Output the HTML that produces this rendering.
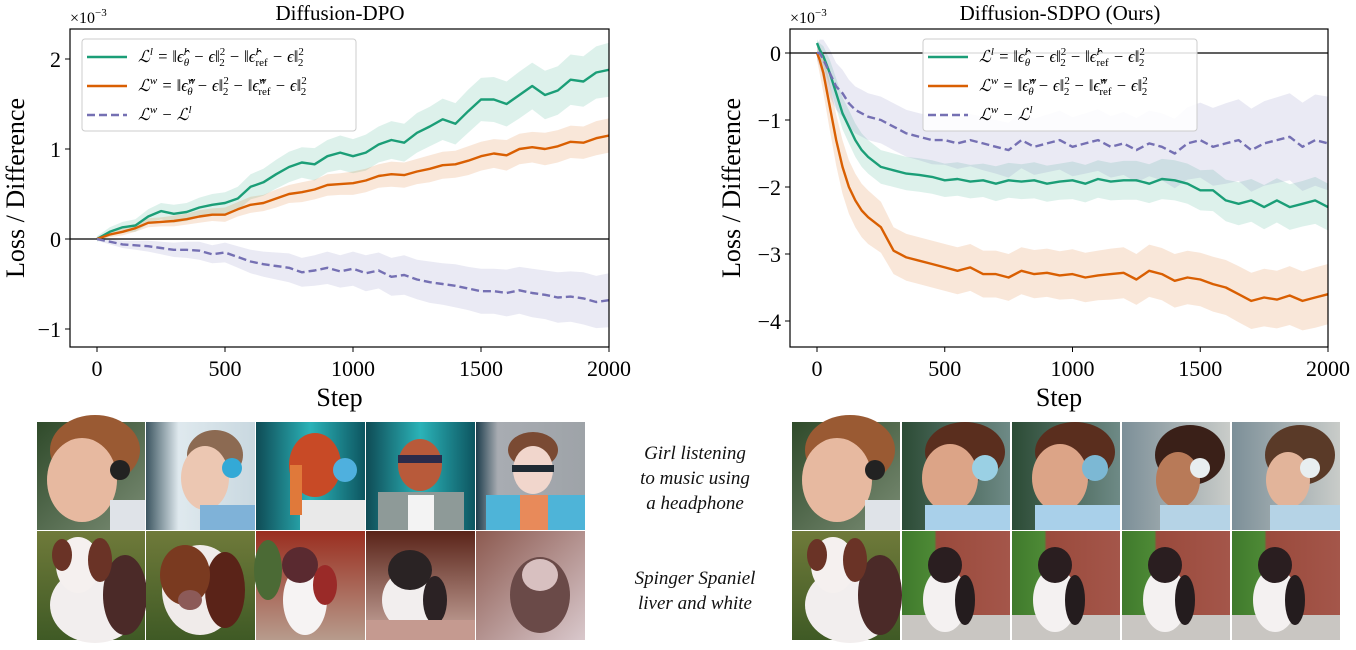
<!DOCTYPE html>
<html><head><meta charset="utf-8">
<style>
body{margin:0;background:#fff;width:1356px;height:645px;overflow:hidden;font-family:"Liberation Serif",serif}
svg text{font-family:"Liberation Serif","DejaVu Serif",serif}
</style></head><body>
<svg id="fig" width="1356" height="645" viewBox="0 0 1356 645" xmlns="http://www.w3.org/2000/svg">
<g id="left-chart"></g>
<g id="right-chart"></g>

<defs>
<linearGradient id="gGreen" x1="0" y1="0" x2="1" y2="1"><stop offset="0" stop-color="#2f4a2a"/><stop offset="1" stop-color="#7a8c74"/></linearGradient>
<linearGradient id="gLight" x1="0" y1="0" x2="1" y2="0"><stop offset="0" stop-color="#3c5560"/><stop offset=".3" stop-color="#dfe9ee"/><stop offset="1" stop-color="#c9d8e0"/></linearGradient>
<linearGradient id="gTeal" x1="0" y1="0" x2="1" y2="0"><stop offset="0" stop-color="#0f4b55"/><stop offset=".5" stop-color="#2bb3b8"/><stop offset="1" stop-color="#0d5560"/></linearGradient>
<linearGradient id="gGrey" x1="0" y1="0" x2="1" y2="0"><stop offset="0" stop-color="#1d3d4c"/><stop offset=".2" stop-color="#a8acb2"/><stop offset="1" stop-color="#9ea3a8"/></linearGradient>
<linearGradient id="gGrass" x1="0" y1="0" x2="0" y2="1"><stop offset="0" stop-color="#6f7a3a"/><stop offset="1" stop-color="#3f5a25"/></linearGradient>
<linearGradient id="gRed" x1="0" y1="0" x2="0" y2="1"><stop offset="0" stop-color="#9a2e20"/><stop offset="1" stop-color="#b79b8c"/></linearGradient>
<linearGradient id="gBrown" x1="0" y1="0" x2="0" y2="1"><stop offset="0" stop-color="#5a2419"/><stop offset="1" stop-color="#c9a9a0"/></linearGradient>
<linearGradient id="gBlanket" x1="0" y1="0" x2="1" y2="1"><stop offset="0" stop-color="#8c5a50"/><stop offset="1" stop-color="#d9c8cc"/></linearGradient>
<linearGradient id="gPark" x1="0" y1="0" x2="1" y2="0"><stop offset="0" stop-color="#2c4b35"/><stop offset="1" stop-color="#6e8a86"/></linearGradient>
<linearGradient id="gBuild" x1="0" y1="0" x2="1" y2="0"><stop offset="0" stop-color="#7c8f98"/><stop offset="1" stop-color="#c9ccc9"/></linearGradient>
<linearGradient id="gBrick" x1="0" y1="0" x2="1" y2="0"><stop offset="0" stop-color="#3f7a2c"/><stop offset=".3" stop-color="#4e8a36"/><stop offset=".32" stop-color="#9a4a3c"/><stop offset="1" stop-color="#a4564a"/></linearGradient>
</defs>

<g>
 <g><rect x="37" y="422" width="108" height="108" fill="url(#gGreen)"/><ellipse cx="95" cy="450" rx="45" ry="35" fill="#9a5a33"/><ellipse cx="82" cy="480" rx="35" ry="42" fill="#e7b9a0"/><circle cx="120" cy="470" r="10" fill="#222"/><rect x="110" y="500" width="35" height="30" fill="#dfe3e8"/></g>
 <g><rect x="146" y="422" width="109" height="108" fill="url(#gLight)"/><ellipse cx="215" cy="455" rx="28" ry="25" fill="#8c6a52"/><ellipse cx="205" cy="478" rx="24" ry="32" fill="#ecc7b2"/><circle cx="232" cy="468" r="10" fill="#33a9d6"/><rect x="200" y="505" width="55" height="25" fill="#7fb2d8"/></g>
 <g><rect x="256" y="422" width="109" height="108" fill="url(#gTeal)"/><ellipse cx="315" cy="465" rx="26" ry="32" fill="#c84a26"/><circle cx="345" cy="470" r="12" fill="#4fb0de"/><rect x="300" y="500" width="65" height="30" fill="#e9e9e9"/><rect x="290" y="465" width="12" height="50" fill="#e0793a"/></g>
 <g><rect x="366" y="422" width="109" height="108" fill="url(#gTeal)"/><ellipse cx="420" cy="465" rx="22" ry="26" fill="#b85a3a"/><rect x="398" y="455" width="44" height="8" fill="#2b2b4a"/><rect x="378" y="492" width="86" height="38" fill="#8e9a98"/><rect x="408" y="495" width="26" height="35" fill="#f3f3f3"/></g>
 <g><rect x="476" y="422" width="109" height="108" fill="url(#gGrey)"/><ellipse cx="533" cy="450" rx="25" ry="18" fill="#7a4a33"/><ellipse cx="533" cy="470" rx="20" ry="24" fill="#f1d6cc"/><rect x="512" y="465" width="42" height="7" fill="#1f2a33"/><rect x="486" y="495" width="99" height="35" fill="#4eb4d8"/><rect x="520" y="495" width="28" height="35" fill="#e88a5a"/></g>
 <g><rect x="37" y="531" width="108" height="109" fill="url(#gGrass)"/><ellipse cx="95" cy="605" rx="45" ry="38" fill="#f2eeee"/><ellipse cx="125" cy="595" rx="22" ry="40" fill="#4b2a28"/><ellipse cx="78" cy="565" rx="22" ry="28" fill="#f5f0ef"/><ellipse cx="62" cy="555" rx="10" ry="16" fill="#6a3326"/><ellipse cx="100" cy="560" rx="12" ry="22" fill="#6a3326"/></g>
 <g><rect x="146" y="531" width="109" height="109" fill="url(#gGrass)"/><ellipse cx="200" cy="590" rx="38" ry="45" fill="#f0ebea"/><ellipse cx="225" cy="590" rx="20" ry="38" fill="#5a2318"/><ellipse cx="185" cy="575" rx="25" ry="30" fill="#7a3a20"/><ellipse cx="190" cy="600" rx="12" ry="10" fill="#8c5a58"/></g>
 <g><rect x="256" y="531" width="109" height="109" fill="url(#gRed)"/><ellipse cx="268" cy="570" rx="14" ry="30" fill="#4b6a35"/><ellipse cx="305" cy="600" rx="22" ry="35" fill="#f6f3f3"/><ellipse cx="300" cy="565" rx="18" ry="18" fill="#5a2a30"/><ellipse cx="325" cy="585" rx="12" ry="20" fill="#9a2a28"/></g>
 <g><rect x="366" y="531" width="109" height="109" fill="url(#gBrown)"/><ellipse cx="410" cy="600" rx="28" ry="30" fill="#f2eeee"/><ellipse cx="410" cy="570" rx="22" ry="20" fill="#2a2324"/><ellipse cx="435" cy="600" rx="12" ry="24" fill="#2b2224"/><rect x="366" y="620" width="109" height="20" fill="#c59a90"/></g>
 <g><rect x="476" y="531" width="109" height="109" fill="url(#gBlanket)"/><ellipse cx="540" cy="595" rx="30" ry="38" fill="#6a4a48"/><ellipse cx="540" cy="575" rx="18" ry="16" fill="#d8c0c0"/></g>
</g>

<g>
 <g><rect x="792" y="422" width="108" height="108" fill="url(#gGreen)"/><ellipse cx="850" cy="450" rx="45" ry="35" fill="#9a5a33"/><ellipse cx="837" cy="480" rx="35" ry="42" fill="#e7b9a0"/><circle cx="875" cy="470" r="10" fill="#222"/><rect x="865" y="500" width="35" height="30" fill="#dfe3e8"/></g>
 <g><rect x="902" y="422" width="108" height="108" fill="url(#gPark)"/><ellipse cx="965" cy="452" rx="40" ry="30" fill="#5a2e1e"/><ellipse cx="950" cy="478" rx="28" ry="34" fill="#dca487"/><circle cx="985" cy="468" r="13" fill="#9ad0e4"/><rect x="925" y="505" width="85" height="25" fill="#a9d0ea"/></g>
 <g><rect x="1012" y="422" width="108" height="108" fill="url(#gPark)"/><ellipse cx="1075" cy="452" rx="40" ry="30" fill="#5a2e1e"/><ellipse cx="1060" cy="478" rx="28" ry="34" fill="#dca487"/><circle cx="1095" cy="468" r="13" fill="#7cb8d4"/><rect x="1035" y="505" width="85" height="25" fill="#a9d0ea"/></g>
 <g><rect x="1122" y="422" width="108" height="108" fill="url(#gBuild)"/><ellipse cx="1190" cy="455" rx="35" ry="30" fill="#3a2018"/><ellipse cx="1178" cy="480" rx="22" ry="28" fill="#b87a58"/><circle cx="1200" cy="468" r="10" fill="#e8eef0"/><rect x="1160" y="505" width="70" height="25" fill="#b5d3e6"/></g>
 <g><rect x="1232" y="422" width="108" height="108" fill="url(#gBuild)"/><ellipse cx="1300" cy="455" rx="35" ry="30" fill="#5a3a28"/><ellipse cx="1288" cy="480" rx="22" ry="28" fill="#e2b49a"/><circle cx="1310" cy="468" r="10" fill="#e8eef0"/><rect x="1270" y="505" width="70" height="25" fill="#b5d3e6"/></g>
 <g><rect x="792" y="531" width="108" height="109" fill="url(#gGrass)"/><ellipse cx="850" cy="605" rx="45" ry="38" fill="#f2eeee"/><ellipse cx="880" cy="595" rx="22" ry="40" fill="#4b2a28"/><ellipse cx="833" cy="565" rx="22" ry="28" fill="#f5f0ef"/><ellipse cx="817" cy="555" rx="10" ry="16" fill="#6a3326"/><ellipse cx="855" cy="560" rx="12" ry="22" fill="#6a3326"/></g>
 <g><rect x="902" y="531" width="108" height="109" fill="url(#gBrick)"/><rect x="902" y="615" width="108" height="25" fill="#c9c6c2"/><ellipse cx="945" cy="600" rx="22" ry="32" fill="#f4f1f1"/><ellipse cx="945" cy="565" rx="17" ry="18" fill="#2a1e20"/><ellipse cx="965" cy="600" rx="10" ry="25" fill="#241c1e"/></g>
 <g><rect x="1012" y="531" width="108" height="109" fill="url(#gBrick)"/><rect x="1012" y="615" width="108" height="25" fill="#c9c6c2"/><ellipse cx="1055" cy="600" rx="22" ry="32" fill="#f4f1f1"/><ellipse cx="1055" cy="565" rx="17" ry="18" fill="#2a1e20"/><ellipse cx="1075" cy="600" rx="10" ry="25" fill="#241c1e"/></g>
 <g><rect x="1122" y="531" width="108" height="109" fill="url(#gBrick)"/><rect x="1122" y="615" width="108" height="25" fill="#c9c6c2"/><ellipse cx="1165" cy="600" rx="22" ry="32" fill="#f4f1f1"/><ellipse cx="1165" cy="565" rx="17" ry="18" fill="#2a1e20"/><ellipse cx="1185" cy="600" rx="10" ry="25" fill="#241c1e"/></g>
 <g><rect x="1232" y="531" width="108" height="109" fill="url(#gBrick)"/><rect x="1232" y="615" width="108" height="25" fill="#c9c6c2"/><ellipse cx="1275" cy="600" rx="22" ry="32" fill="#f4f1f1"/><ellipse cx="1275" cy="565" rx="17" ry="18" fill="#2a1e20"/><ellipse cx="1295" cy="600" rx="10" ry="25" fill="#241c1e"/></g>
</g>

<g font-style="italic" font-size="19" text-anchor="middle" fill="#111">
 <text x="695" y="459">Girl listening</text>
 <text x="695" y="484">to music using</text>
 <text x="695" y="509">a headphone</text>
 <text x="695" y="584">Spinger Spaniel</text>
 <text x="695" y="609">liver and white</text>
</g>
</svg>

<script>
// ---- Left chart data (values ×1e-3) ----
const dpoSteps = [0,50,100,150,200,250,300,350,400,450,500,550,600,650,700,750,800,850,900,950,1000,1050,1100,1150,1200,1250,1300,1350,1400,1450,1500,1550,1600,1650,1700,1750,1800,1850,1900,1950,2000];
const dpoLoser = [0,0.08,0.13,0.15,0.25,0.31,0.28,0.3,0.35,0.38,0.4,0.45,0.58,0.63,0.72,0.8,0.85,0.83,0.92,0.96,0.92,0.96,1.05,1.1,1.07,1.18,1.25,1.33,1.28,1.42,1.55,1.55,1.5,1.6,1.7,1.6,1.65,1.77,1.75,1.85,1.88];
const dpoLoserBand = [0.03,0.05,0.06,0.07,0.08,0.09,0.1,0.1,0.11,0.12,0.12,0.13,0.14,0.15,0.16,0.17,0.17,0.18,0.18,0.19,0.19,0.2,0.2,0.21,0.21,0.22,0.22,0.23,0.23,0.24,0.24,0.25,0.25,0.26,0.26,0.27,0.27,0.28,0.28,0.29,0.3];
const dpoWinner = [0,0.05,0.08,0.12,0.18,0.19,0.2,0.22,0.25,0.27,0.27,0.33,0.38,0.4,0.45,0.5,0.52,0.55,0.6,0.61,0.62,0.65,0.7,0.72,0.71,0.75,0.78,0.82,0.83,0.87,0.92,0.95,0.93,1.0,1.02,1.0,1.03,1.08,1.07,1.12,1.15];
const dpoWinnerBand = [0.02,0.03,0.04,0.04,0.05,0.05,0.06,0.06,0.07,0.07,0.08,0.08,0.09,0.09,0.1,0.1,0.11,0.11,0.12,0.12,0.13,0.13,0.13,0.14,0.14,0.14,0.15,0.15,0.15,0.16,0.16,0.16,0.17,0.17,0.17,0.18,0.18,0.18,0.18,0.19,0.19];
const dpoDiff = [0,-0.03,-0.06,-0.07,-0.08,-0.1,-0.12,-0.12,-0.13,-0.17,-0.15,-0.2,-0.25,-0.28,-0.3,-0.32,-0.37,-0.35,-0.32,-0.36,-0.33,-0.38,-0.35,-0.42,-0.4,-0.45,-0.48,-0.5,-0.52,-0.55,-0.58,-0.58,-0.6,-0.57,-0.6,-0.62,-0.65,-0.64,-0.66,-0.7,-0.68];
const dpoDiffBand = [0.02,0.03,0.04,0.05,0.06,0.07,0.08,0.09,0.1,0.1,0.11,0.12,0.13,0.14,0.15,0.16,0.16,0.17,0.18,0.18,0.19,0.2,0.2,0.21,0.22,0.22,0.23,0.23,0.24,0.24,0.25,0.25,0.26,0.26,0.27,0.27,0.28,0.28,0.29,0.29,0.3];
const dpoYTicks = [-1,0,1,2];
const dpoYTickLabels = ["\u22121","0","1","2"];

// ---- Right chart data ----
const sdpoSteps = [0,10,25,50,75,100,125,150,175,200,250,300,350,400,450,500,550,600,650,700,750,800,850,900,950,1000,1050,1100,1150,1200,1250,1300,1350,1400,1450,1500,1550,1600,1650,1700,1750,1800,1850,1900,1950,2000];
const sdpoLoser = [0.15,0.05,-0.05,-0.3,-0.6,-0.9,-1.1,-1.3,-1.45,-1.55,-1.7,-1.75,-1.8,-1.82,-1.85,-1.9,-1.88,-1.92,-1.9,-1.95,-1.9,-1.92,-1.9,-1.95,-1.92,-1.9,-1.95,-1.88,-1.92,-1.9,-1.9,-1.95,-1.88,-1.9,-1.95,-2.05,-2.05,-2.2,-2.25,-2.2,-2.3,-2.2,-2.3,-2.25,-2.2,-2.3];
const sdpoLoserBand = [0.05,0.1,0.15,0.2,0.22,0.24,0.25,0.25,0.25,0.25,0.25,0.25,0.25,0.25,0.25,0.25,0.25,0.25,0.25,0.26,0.26,0.26,0.27,0.27,0.27,0.28,0.28,0.28,0.28,0.29,0.29,0.29,0.3,0.3,0.3,0.3,0.31,0.31,0.32,0.32,0.33,0.33,0.34,0.34,0.35,0.35];
const sdpoWinner = [0,-0.1,-0.3,-0.8,-1.3,-1.7,-2.0,-2.2,-2.35,-2.45,-2.6,-2.95,-3.05,-3.1,-3.15,-3.2,-3.25,-3.2,-3.3,-3.3,-3.35,-3.25,-3.3,-3.28,-3.32,-3.3,-3.35,-3.32,-3.3,-3.28,-3.38,-3.25,-3.3,-3.4,-3.35,-3.38,-3.45,-3.5,-3.6,-3.7,-3.65,-3.68,-3.62,-3.7,-3.65,-3.6];
const sdpoWinnerBand = [0.1,0.2,0.3,0.35,0.38,0.4,0.4,0.4,0.4,0.4,0.38,0.35,0.35,0.35,0.35,0.35,0.35,0.35,0.35,0.35,0.35,0.35,0.36,0.36,0.36,0.37,0.37,0.37,0.38,0.38,0.38,0.39,0.39,0.4,0.4,0.4,0.41,0.41,0.42,0.42,0.43,0.43,0.44,0.44,0.45,0.45];
const sdpoDiff = [0,0,-0.1,-0.3,-0.5,-0.6,-0.75,-0.85,-0.9,-0.95,-1.0,-1.1,-1.2,-1.25,-1.3,-1.3,-1.35,-1.3,-1.35,-1.4,-1.45,-1.3,-1.4,-1.35,-1.3,-1.4,-1.35,-1.3,-1.4,-1.35,-1.45,-1.35,-1.4,-1.5,-1.35,-1.3,-1.4,-1.35,-1.3,-1.45,-1.35,-1.3,-1.25,-1.4,-1.3,-1.35];
const sdpoDiffBand = [0.1,0.2,0.3,0.35,0.35,0.35,0.35,0.35,0.35,0.35,0.35,0.35,0.35,0.35,0.36,0.37,0.38,0.39,0.4,0.4,0.41,0.42,0.42,0.43,0.44,0.44,0.45,0.46,0.46,0.47,0.48,0.49,0.5,0.52,0.54,0.56,0.58,0.6,0.61,0.62,0.63,0.64,0.65,0.66,0.68,0.7];
const sdpoYTicks = [-4,-3,-2,-1,0];
const sdpoYTickLabels = ["\u22124","\u22123","\u22122","\u22121","0"];

const xTicks = [0,500,1000,1500,2000];
const xTickLabels = ["0","500","1000","1500","2000"];

const NS = "http://www.w3.org/2000/svg";
const C = {l:"#1b9e77", w:"#d95f02", d:"#7570b3"};

function mk(parent, tag, attrs){
  const e = document.createElementNS(NS, tag);
  for (const k in attrs) e.setAttribute(k, attrs[k]);
  parent.appendChild(e);
  return e;
}

// legend math builders
function supsub(sup, sub, supW){
  return '<tspan dy="-7" font-size="11">' + sup + '</tspan>' +
         '<tspan dx="-' + supW + '" dy="11" font-size="11" font-style="normal">' + sub + '</tspan>' +
         '<tspan dy="-4"></tspan>';
}
function lossEntry(k, kw){
  return 'ℒ<tspan dy="-7" font-size="11">' + k + '</tspan><tspan dy="7"> = ‖ϵ̂</tspan>' +
    '<tspan dy="-7" font-size="11">' + k + '</tspan><tspan dx="-' + kw + '" dy="11" font-size="11">θ</tspan>' +
    '<tspan dy="-4"> − ϵ‖</tspan><tspan dy="-7" font-size="11" font-style="normal">2</tspan><tspan dx="-6" dy="11" font-size="11" font-style="normal">2</tspan>' +
    '<tspan dy="-4"> − ‖ϵ̂</tspan><tspan dy="-7" font-size="11">' + k + '</tspan><tspan dx="-' + kw + '" dy="11" font-size="11" font-style="normal">ref</tspan>' +
    '<tspan dy="-4"> − ϵ‖</tspan><tspan dy="-7" font-size="11" font-style="normal">2</tspan><tspan dx="-6" dy="11" font-size="11" font-style="normal">2</tspan>';
}

function drawChart(g, cfg){
  const sx = v => cfg.x0 + v / 2000 * (cfg.x2000 - cfg.x0);
  const sy = v => cfg.y0 - v * cfg.yUnit;
  const clipId = cfg.id + "-clip";
  const cp = mk(g, "clipPath", {id: clipId});
  mk(cp, "rect", {x: cfg.left, y: cfg.top, width: cfg.right - cfg.left, height: cfg.bottom - cfg.top});
  const plot = mk(g, "g", {"clip-path": "url(#" + clipId + ")"});
  
  

  const series = cfg.series;
  series.forEach(s => {
    let up = s.vals.map((v,i) => sx(cfg.steps[i]).toFixed(1) + "," + sy(v + s.band[i]).toFixed(1));
    let dn = s.vals.map((v,i) => sx(cfg.steps[i]).toFixed(1) + "," + sy(v - s.band[i]).toFixed(1)).reverse();
    const p = mk(plot, "polygon", {points: up.concat(dn).join(" "), fill: s.color, "fill-opacity": 0.15, stroke: "none"});
    
    
  });
  const z = mk(plot, "line", {x1: cfg.left, x2: cfg.right, y1: sy(0), y2: sy(0), stroke: "#000", "stroke-width": 1.3});
  
  
  series.forEach(s => {
    const pts = s.vals.map((v,i) => sx(cfg.steps[i]).toFixed(1) + "," + sy(v).toFixed(1)).join(" ");
    const attrs = {points: pts, fill: "none", stroke: s.color, "stroke-width": 2.4, "stroke-linejoin": "round"};
    if (s.dash) attrs["stroke-dasharray"] = "8,4";
    const l = mk(plot, "polyline", attrs);
    
    
  });
  const fr = mk(g, "rect", {x: cfg.left, y: cfg.top, width: cfg.right - cfg.left, height: cfg.bottom - cfg.top, fill: "none", stroke: "#000", "stroke-width": 1.2});
  
  
  xTicks.forEach((t,i) => {
    mk(g, "line", {x1: sx(t), x2: sx(t), y1: cfg.bottom, y2: cfg.bottom + 5, stroke: "#000", "stroke-width": 1});
    const tx = mk(g, "text", {x: sx(t), y: cfg.bottom + 29, "font-size": 22, "text-anchor": "middle"});
    tx.textContent = xTickLabels[i];
    
    
  });
  cfg.yTicks.forEach((t,i) => {
    mk(g, "line", {x1: cfg.left - 5, x2: cfg.left, y1: sy(t), y2: sy(t), stroke: "#000", "stroke-width": 1});
    const tx = mk(g, "text", {x: cfg.left - 9, y: sy(t) + 8, "font-size": 22, "text-anchor": "end"});
    tx.textContent = cfg.yLabels[i];
    
    
  });
  const xl = mk(g, "text", {x: (cfg.left + cfg.right) / 2, y: 406, "font-size": 26, "text-anchor": "middle"});
  xl.textContent = "Step";
  
  
  const yl = mk(g, "text", {x: 0, y: 0, "font-size": 26, "text-anchor": "middle", transform: "translate(" + cfg.yTitleX + ",188) rotate(-90)"});
  yl.textContent = "Loss / Difference";
  
  
  const tl = mk(g, "text", {x: cfg.titleX, y: 20, "font-size": 21, "text-anchor": "middle"});
  tl.textContent = cfg.title;
  
  
  const sc = mk(g, "text", {x: cfg.left, y: 23, "font-size": 16});
  sc.innerHTML = '×10<tspan dy="-7" font-size="11">−3</tspan>';
  
  

  const lg = mk(g, "g", {});
  
  
  mk(lg, "rect", {x: cfg.legX, y: 39, width: 274, height: 92, rx: 3, fill: "#fff", "fill-opacity": 0.85, stroke: "#ccc", "stroke-width": 1});
  const items = [
    {c: C.l, dash: false, html: lossEntry("l", 3)},
    {c: C.w, dash: false, html: lossEntry("w", 8)},
    {c: C.d, dash: true, html: 'ℒ<tspan dy="-7" font-size="11">w</tspan><tspan dy="7"> − ℒ</tspan><tspan dy="-7" font-size="11">l</tspan>'}
  ];
  items.forEach((it,i) => {
    const yy = 57 + i * 29;
    const a = {x1: cfg.legX + 5, x2: cfg.legX + 45, y1: yy, y2: yy, stroke: it.c, "stroke-width": 2.6};
    if (it.dash) a["stroke-dasharray"] = "8,4";
    mk(lg, "line", a);
    const t = mk(lg, "text", {x: cfg.legX + 56, y: yy + 5, "font-size": 16.5, "font-style": "italic"});
    t.innerHTML = it.html;
    
    
  });
}

drawChart(document.getElementById("left-chart"), {
  id: "dpo", left: 70, right: 609, top: 29, bottom: 347, x0: 97, x2000: 609, y0: 239, yUnit: 90,
  steps: dpoSteps, yTicks: dpoYTicks, yLabels: dpoYTickLabels, title: "Diffusion-DPO", titleX: 340, yTitleX: 24, legX: 82,
  series: [
    {name: "loser-loss", vals: dpoLoser, band: dpoLoserBand, color: C.l},
    {name: "winner-loss", vals: dpoWinner, band: dpoWinnerBand, color: C.w},
    {name: "difference", vals: dpoDiff, band: dpoDiffBand, color: C.d, dash: true}
  ]
});
drawChart(document.getElementById("right-chart"), {
  id: "sdpo", left: 790, right: 1328, top: 29, bottom: 347, x0: 817, x2000: 1328, y0: 53, yUnit: 67,
  steps: sdpoSteps, yTicks: sdpoYTicks, yLabels: sdpoYTickLabels, title: "Diffusion-SDPO (Ours)", titleX: 1060, yTitleX: 740, legX: 923,
  series: [
    {name: "loser-loss", vals: sdpoLoser, band: sdpoLoserBand, color: C.l},
    {name: "winner-loss", vals: sdpoWinner, band: sdpoWinnerBand, color: C.w},
    {name: "difference", vals: sdpoDiff, band: sdpoDiffBand, color: C.d, dash: true}
  ]
});
</script>
</body></html>
